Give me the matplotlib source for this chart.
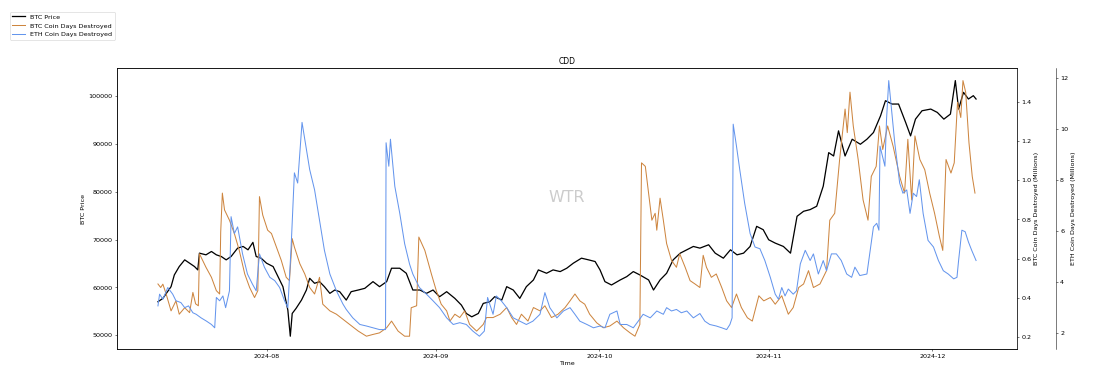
import matplotlib
matplotlib.use('Agg')
import matplotlib.pyplot as plt
import numpy as np
import pandas as pd

# days are offsets from 2024-08-01
base = pd.Timestamp('2024-08-01')

btc_price_days = [
    -19.9, -19.0, -17.5, -16.9, -16.0, -15.0, -14.1, -13.2, -12.6, -12.3,
    -11.1, -10.1, -9.2, -8.3, -7.4, -6.5, -5.3, -4.3, -3.4, -2.5,
    -1.9, -1.0, 0.0, 1.2, 2.1, 3.0, 3.9, 4.35, 4.7, 5.4,
    6.4, 7.3, 7.9, 8.8, 9.7, 10.6, 11.6, 12.5, 13.4, 14.6,
    15.5, 16.8, 18.0, 19.5, 20.7, 22.0, 22.9, 24.4, 25.6, 26.8,
    28.1, 29.3, 30.5, 31.7, 33.0, 34.5, 35.7, 36.6, 37.6, 38.8,
    39.7, 40.9, 41.8, 43.1, 44.0, 45.2, 46.4, 47.6, 48.9, 49.8,
    51.3, 52.5, 53.8, 55.0, 56.2, 57.7, 59.0, 60.2, 61.1, 62.0,
    63.2, 64.8, 66.0, 67.2, 68.4, 70.0, 70.9, 72.1, 73.3, 74.5,
    75.8, 77.0, 78.2, 79.4, 81.0, 82.2, 83.7, 85.0, 86.2, 87.4,
    88.6, 89.8, 91.0, 92.0, 93.2, 94.7, 96.0, 97.2, 98.4, 99.6,
    100.8, 102.0, 103.0, 103.9, 104.8, 106.0, 107.3, 108.8, 110.0, 111.2,
    112.5, 113.4, 114.6, 115.8, 117.1, 118.0, 118.9, 120.1, 121.7, 122.9,
    124.1, 125.3, 126.2, 126.8, 127.7, 128.6, 129.5, 130.0]
btc_price = [
    57000, 57700, 60150, 62600, 64350, 65750, 65050, 64350, 63650, 67150,
    66800, 67500, 66800, 66450, 65750, 66450, 68200, 68550, 67850, 69400,
    66450, 66100, 65050, 64350, 62250, 60150, 55250, 49800, 54550, 55600,
    57350, 59450, 61900, 60850, 61200, 60150, 58750, 59450, 59100, 57350,
    59100, 59450, 59800, 61200, 60150, 61200, 64000, 64000, 62950, 59450,
    59450, 58750, 59450, 58050, 59100, 57700, 56300, 54550, 53850, 54550,
    56650, 57000, 58050, 57350, 60150, 59450, 57700, 60150, 61550, 63650,
    62950, 63650, 63300, 64000, 65050, 66100, 65750, 65400, 63650, 61200,
    60500, 61550, 62250, 63300, 62600, 61550, 59450, 61550, 62950, 65750,
    67150, 67850, 68550, 68200, 68900, 67150, 66100, 67850, 66800, 67150,
    68550, 72750, 72050, 69950, 69250, 68550, 67150, 74850, 75900, 76250,
    76950, 81150, 88150, 87450, 92700, 87450, 90950, 89900, 90950, 92350,
    95850, 99000, 98300, 98300, 94450, 91650, 95150, 96900, 97250, 96550,
    95150, 96200, 103200, 97250, 100750, 99350, 100050, 99350]

btc_cdd_days = [
    -19.9, -19.4, -19.0, -18.4, -17.5, -16.6, -16.0, -15.0, -14.1, -13.5,
    -13.0, -12.5, -12.3, -11.1, -10.1, -9.2, -8.6, -8.4, -8.1, -7.7,
    -6.8, -5.9, -5.0, -4.0, -3.1, -2.2, -1.6, -1.3, -0.7, 0.2,
    0.9, 1.8, 2.7, 3.6, 4.2, 4.7, 5.1, 6.1, 7.0, 7.9,
    8.8, 9.7, 10.3, 11.6, 12.8, 14.0, 15.2, 16.8, 18.3, 19.5,
    20.7, 22.0, 22.9, 24.1, 25.3, 26.2, 26.5, 27.5, 27.9, 29.0,
    30.2, 31.1, 32.0, 33.0, 33.6, 34.5, 35.4, 36.3, 37.2, 38.5,
    39.7, 40.3, 41.5, 42.8, 44.0, 44.9, 45.8, 46.7, 47.9, 48.9,
    50.1, 51.0, 52.2, 53.4, 54.7, 55.6, 56.5, 57.4, 58.3, 59.2,
    60.5, 61.7, 62.9, 64.2, 65.4, 66.6, 67.5, 68.4, 68.7, 69.4,
    70.0, 70.6, 71.2, 71.5, 72.1, 72.7, 73.3, 74.2, 75.1, 75.7,
    76.7, 77.6, 78.5, 79.4, 80.0, 80.6, 81.5, 82.4, 83.4, 84.3,
    85.2, 86.1, 87.0, 88.1, 89.0, 90.2, 91.1, 92.3, 93.2, 94.4,
    95.6, 96.5, 97.5, 98.4, 99.3, 100.2, 101.4, 102.6, 103.2, 104.1,
    105.0, 106.0, 106.4, 106.9, 107.5, 108.4, 109.3, 110.2, 110.8, 111.7,
    112.3, 112.9, 113.8, 114.8, 116.0, 116.9, 117.5, 118.2, 118.8, 119.7,
    120.6, 121.5, 122.4, 123.3, 123.9, 124.5, 125.4, 126.0, 126.6, 127.2,
    127.6, 128.1, 128.7, 129.3, 129.8]
btc_cdd = [
    0.471, 0.453, 0.470, 0.420, 0.334, 0.385, 0.317, 0.350, 0.325, 0.428,
    0.370, 0.360, 0.625, 0.556, 0.505, 0.437, 0.420, 0.736, 0.934, 0.848,
    0.796, 0.728, 0.642, 0.522, 0.453, 0.402, 0.437, 0.916, 0.822, 0.745,
    0.728, 0.659, 0.591, 0.505, 0.488, 0.702, 0.659, 0.574, 0.522, 0.453,
    0.420, 0.505, 0.368, 0.334, 0.317, 0.291, 0.265, 0.231, 0.205, 0.214,
    0.222, 0.248, 0.282, 0.231, 0.205, 0.205, 0.350, 0.360, 0.710, 0.642,
    0.522, 0.437, 0.368, 0.334, 0.282, 0.317, 0.300, 0.334, 0.265, 0.231,
    0.265, 0.300, 0.300, 0.317, 0.351, 0.300, 0.265, 0.317, 0.282, 0.351,
    0.334, 0.360, 0.300, 0.317, 0.351, 0.385, 0.420, 0.385, 0.368, 0.317,
    0.273, 0.248, 0.257, 0.282, 0.248, 0.222, 0.205, 0.265, 1.088, 1.070,
    0.934, 0.796, 0.831, 0.745, 0.908, 0.796, 0.677, 0.591, 0.556, 0.625,
    0.556, 0.488, 0.471, 0.453, 0.617, 0.556, 0.505, 0.522, 0.453, 0.385,
    0.351, 0.420, 0.351, 0.299, 0.282, 0.411, 0.385, 0.402, 0.368, 0.411,
    0.317, 0.351, 0.453, 0.471, 0.539, 0.453, 0.471, 0.539, 0.796, 0.831,
    1.105, 1.362, 1.242, 1.448, 1.276, 1.105, 0.899, 0.796, 1.019, 1.070,
    1.276, 1.156, 1.276, 1.173, 1.019, 0.934, 1.208, 0.899, 1.225, 1.105,
    1.053, 0.934, 0.831, 0.711, 0.642, 1.105, 1.036, 1.088, 1.396, 1.319,
    1.507, 1.448, 1.191, 1.019, 0.934]

eth_cdd_days = [
    -19.9, -19.6, -19.0, -18.1, -17.2, -16.6, -15.7, -15.0, -14.3, -13.5,
    -12.9, -12.0, -11.0, -10.1, -9.5, -9.2, -8.6, -8.0, -7.5, -6.8,
    -6.5, -5.9, -5.3, -4.4, -3.5, -2.6, -1.9, -1.3, -0.4, 0.6,
    1.5, 2.4, 3.3, 3.9, 4.5, 5.1, 5.7, 6.5, 7.2, 7.9,
    8.8, 9.7, 10.6, 11.6, 12.8, 14.0, 14.6, 15.8, 17.1, 18.3,
    19.5, 20.7, 21.8, 21.9, 22.4, 22.7, 23.5, 24.4, 25.3, 26.2,
    26.8, 28.0, 29.3, 30.5, 31.7, 33.0, 34.2, 35.4, 36.6, 37.8,
    39.0, 39.9, 40.5, 41.5, 42.1, 43.0, 44.0, 45.2, 46.4, 47.6,
    48.8, 50.1, 51.0, 51.9, 53.2, 54.4, 55.6, 56.5, 57.4, 58.7,
    59.9, 61.1, 62.0, 62.9, 64.2, 64.8, 66.0, 67.2, 68.1, 69.0,
    70.3, 71.5, 72.7, 73.3, 74.2, 75.1, 76.0, 77.0, 78.2, 79.4,
    80.3, 81.2, 82.4, 83.4, 84.3, 84.9, 85.3, 85.5, 86.1, 86.7,
    87.6, 88.6, 89.5, 90.4, 91.3, 92.3, 93.2, 93.8, 94.4, 95.0,
    95.6, 96.5, 97.1, 97.8, 98.7, 99.6, 100.2, 101.1, 102.0, 102.6,
    103.5, 104.4, 105.3, 106.3, 107.2, 107.8, 108.7, 110.0, 110.6, 111.2,
    111.8, 112.2, 112.4, 113.0, 113.3, 113.6, 114.0, 114.5, 115.1, 116.0,
    116.6, 117.3, 117.9, 118.5, 119.1, 119.6, 120.3, 121.2, 122.2, 123.1,
    124.0, 124.9, 125.9, 126.5, 126.8, 127.4, 128.0, 128.6, 129.2, 130.0]
eth_cdd = [
    3.06, 3.52, 3.32, 3.78, 3.52, 3.26, 3.19, 2.99, 3.06, 2.79,
    2.73, 2.59, 2.46, 2.33, 2.20, 3.39, 3.26, 3.45, 2.99, 3.65,
    6.56, 5.90, 6.16, 5.10, 4.31, 3.92, 3.65, 5.10, 4.58, 4.18,
    4.05, 3.78, 3.26, 2.99, 5.37, 8.28, 7.88, 10.26, 9.33, 8.41,
    7.61, 6.43, 5.24, 4.31, 3.65, 3.13, 2.92, 2.59, 2.33, 2.27,
    2.20, 2.13, 2.13, 9.46, 8.54, 9.60, 7.75, 6.70, 5.50, 4.70,
    4.31, 3.78, 3.52, 3.26, 2.99, 2.59, 2.33, 2.40, 2.33, 2.07,
    1.87, 2.07, 3.39, 2.73, 3.45, 3.26, 2.99, 2.59, 2.46, 2.33,
    2.46, 2.73, 3.58, 2.99, 2.59, 2.86, 2.99, 2.73, 2.46, 2.33,
    2.20, 2.27, 2.20, 2.73, 2.86, 2.33, 2.33, 2.20, 2.46, 2.73,
    2.59, 2.86, 2.73, 2.99, 2.86, 2.92, 2.79, 2.86, 2.59, 2.76,
    2.46, 2.33, 2.27, 2.20, 2.13, 2.33, 2.59, 10.19, 9.33, 8.41,
    7.09, 5.90, 5.37, 5.30, 4.84, 4.18, 3.52, 3.32, 3.78, 3.45,
    3.72, 3.52, 3.65, 4.71, 5.24, 4.84, 5.10, 4.31, 4.84, 4.44,
    5.10, 5.10, 4.84, 4.31, 4.18, 4.58, 4.25, 4.31, 5.24, 6.16,
    6.30, 6.03, 9.33, 8.80, 8.54, 10.39, 11.90, 10.78, 9.46, 7.88,
    7.48, 7.61, 6.69, 7.48, 7.35, 8.01, 6.69, 5.63, 5.37, 4.84,
    4.44, 4.31, 4.12, 4.18, 4.84, 6.03, 5.97, 5.57, 5.24, 4.84]


def to_time(days):
    return base + pd.to_timedelta(np.array(days), unit='D')


fig = plt.figure(figsize=(24, 8.42), dpi=45.75)
ax1 = fig.add_subplot(111)
fig.subplots_adjust(left=0.1066, right=0.9262, bottom=0.0935, top=0.8234)
ax2 = ax1.twinx()
ax3 = ax1.twinx()
ax3.spines['right'].set_position(('axes', 1.043))

# btc price
l1, = ax1.plot(to_time(btc_price_days), btc_price, color='black', lw=2.0, label='BTC Price')
ax1.set_ylabel('BTC Price')
ax1.set_xlabel('Time')

# coin days destroyed
l2, = ax2.plot(to_time(btc_cdd_days), btc_cdd, color='peru', lw=1.6, label='BTC Coin Days Destroyed')
ax2.set_ylabel('BTC Coin Days Destroyed (Millions)')

l3, = ax3.plot(to_time(eth_cdd_days), eth_cdd, color='cornflowerblue', lw=1.6, label='ETH Coin Days Destroyed')
ax3.set_ylabel('ETH Coin Days Destroyed (Millions)')

ax1.set_title('CDD')
ax1.text(0.5, 0.54, 'WTR', transform=ax1.transAxes, fontsize=25,
         color='grey', alpha=0.4, ha='center', va='center')

fig.legend(handles=[l1, l2, l3], loc='upper left',
           bbox_to_anchor=(0.009, 0.969), borderaxespad=0)

fig.savefig('out.png', dpi=45.75)
